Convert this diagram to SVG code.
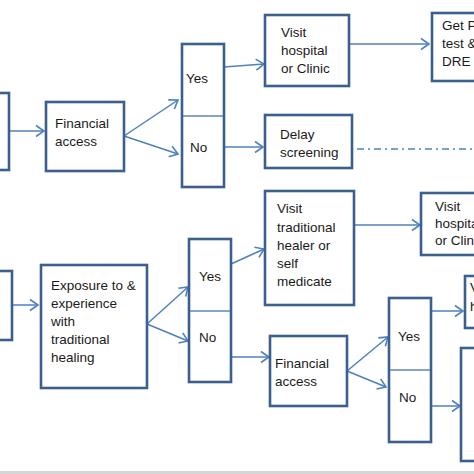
<svg xmlns="http://www.w3.org/2000/svg" width="474" height="474" viewBox="0 0 474 474">
<defs>
<marker id="ah" markerUnits="userSpaceOnUse" markerWidth="14" markerHeight="14" viewBox="-10 -7 12 14" refX="0" refY="0" orient="auto">
<path d="M-8,-5.5 L0,0 L-8,5.5" fill="none" stroke="#4f81bd" stroke-width="1.6"/>
</marker>
</defs>
<style>
.box{fill:#fff;stroke:#3b5f8e;stroke-width:2.6}
.div{stroke:#5b86bb;stroke-width:1.3}
.lbl{font-family:"Liberation Sans",Arial,sans-serif;font-size:13.5px;fill:#1a1a1a}
.con{stroke:#4f81bd;stroke-width:1.5;fill:none;marker-end:url(#ah)}
.dd{stroke:#4f81bd;stroke-width:1.4;fill:none;stroke-dasharray:7 4 2 4}
</style>
<rect x="0" y="0" width="474" height="474" fill="#fff"/>
<g id="connectors">
<line class="con" x1="9" y1="131" x2="44" y2="131"/>
<line class="con" x1="124" y1="136" x2="178" y2="100"/>
<line class="con" x1="124" y1="136" x2="178" y2="154"/>
<line class="con" x1="224" y1="67" x2="264" y2="64"/>
<line class="con" x1="224" y1="147" x2="263" y2="147"/>
<line class="con" x1="349" y1="44" x2="429" y2="44"/>
<line class="dd" x1="357" y1="149" x2="474" y2="149"/>
<line class="con" x1="12" y1="305" x2="38" y2="305"/>
<line class="con" x1="147" y1="324" x2="188" y2="287"/>
<line class="con" x1="147" y1="324" x2="188" y2="341"/>
<line class="con" x1="231" y1="264" x2="264" y2="249"/>
<line class="con" x1="231" y1="357" x2="269" y2="357"/>
<line class="con" x1="354" y1="225" x2="420" y2="225"/>
<line class="con" x1="347" y1="371" x2="388" y2="337"/>
<line class="con" x1="347" y1="371" x2="386" y2="387"/>
<line class="con" x1="431" y1="311" x2="463" y2="311"/>
<line class="con" x1="431" y1="406" x2="460" y2="406"/>
</g>
<g id="left1"><rect class="box" x="-10" y="93" width="19" height="77"/></g>
<g id="fin1"><rect class="box" x="46" y="102" width="78" height="69"/>
<text class="lbl" x="55" y="128">Financial</text><text class="lbl" x="55" y="146">access</text></g>
<g id="yn1"><rect class="box" x="182" y="44" width="42" height="143"/><line class="div" x1="183" y1="116" x2="223" y2="116"/>
<text class="lbl" x="186" y="83">Yes</text><text class="lbl" x="190" y="152">No</text></g>
<g id="visit1"><rect class="box" x="265" y="15" width="84" height="71"/>
<text class="lbl" x="281" y="37">Visit</text><text class="lbl" x="281" y="55">hospital</text><text class="lbl" x="281" y="73">or Clinic</text></g>
<g id="getpsa"><rect class="box" x="432" y="13" width="60" height="68"/>
<text class="lbl" x="442" y="30">Get PSA</text><text class="lbl" x="442" y="48">test &amp;</text><text class="lbl" x="442" y="66">DRE exam</text></g>
<g id="delay"><rect class="box" x="265" y="115" width="87" height="53"/>
<text class="lbl" x="280" y="139">Delay</text><text class="lbl" x="280" y="157">screening</text></g>
<g id="left2"><rect class="box" x="-10" y="271" width="22" height="69"/></g>
<g id="exposure"><rect class="box" x="41" y="265" width="106" height="123"/>
<text class="lbl" x="51" y="290">Exposure to &amp;</text><text class="lbl" x="51" y="308">experience</text><text class="lbl" x="51" y="326">with</text><text class="lbl" x="51" y="344">traditional</text><text class="lbl" x="51" y="362">healing</text></g>
<g id="yn2"><rect class="box" x="189" y="239" width="42" height="143"/><line class="div" x1="190" y1="311" x2="230" y2="311"/>
<text class="lbl" x="199" y="281">Yes</text><text class="lbl" x="199" y="342">No</text></g>
<g id="visittrad"><rect class="box" x="265" y="191" width="89" height="114"/>
<text class="lbl" x="277" y="213">Visit</text><text class="lbl" x="277" y="231.5">traditional</text><text class="lbl" x="277" y="250">healer or</text><text class="lbl" x="277" y="268">self</text><text class="lbl" x="277" y="286">medicate</text></g>
<g id="visit2"><rect class="box" x="421" y="193" width="60" height="62"/>
<text class="lbl" x="435" y="211">Visit</text><text class="lbl" x="435" y="228">hospital</text><text class="lbl" x="435" y="245">or Clinic</text></g>
<g id="fin2"><rect class="box" x="270" y="336" width="77" height="70"/>
<text class="lbl" x="275" y="368">Financial</text><text class="lbl" x="275" y="386">access</text></g>
<g id="yn3"><rect class="box" x="389" y="298" width="42" height="144"/><line class="div" x1="390" y1="370" x2="430" y2="370"/>
<text class="lbl" x="398" y="341">Yes</text><text class="lbl" x="399" y="402">No</text></g>
<g id="visit3"><rect class="box" x="465" y="276" width="20" height="52"/>
<text class="lbl" x="470" y="292">Visit</text><text class="lbl" x="470" y="311">hospital</text></g>
<g id="box4"><rect class="box" x="461" y="348" width="20" height="113"/></g>
<rect x="0" y="471" width="474" height="3" fill="#d6d6d6"/>
</svg>
